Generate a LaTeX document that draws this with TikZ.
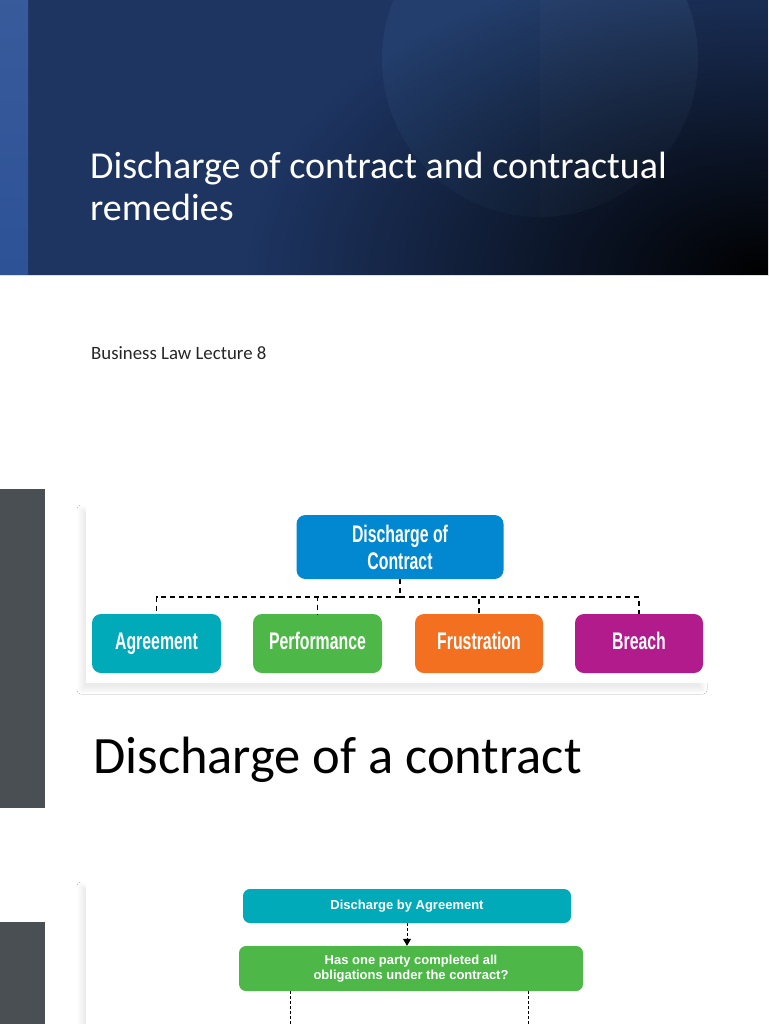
\documentclass[tikz,border=0pt]{standalone}
\usepackage{fontspec}
\setmainfont{Carlito}
\newfontfamily\condfont{Liberation Sans}[FakeStretch=0.66]
\newfontfamily\flowfont{Liberation Sans}
\usetikzlibrary{shadows.blur,fadings,arrows.meta}
\definecolor{bannerblue}{HTML}{1E3562}
\definecolor{stripblue}{HTML}{2D5296}
\definecolor{circblue}{HTML}{284776}
\definecolor{bandline}{HTML}{D5E2EE}
\definecolor{barGray}{HTML}{4A4F54}
\definecolor{cBlue}{HTML}{0288D1}
\definecolor{cTeal}{HTML}{00AAB9}
\definecolor{cGreen}{HTML}{4DB848}
\definecolor{cOrange}{HTML}{F37021}
\definecolor{cMagenta}{HTML}{B21B8B}
\tikzfading[name=cornerfade, inner color=transparent!0, outer color=transparent!100]
\begin{document}
\begin{tikzpicture}[x=1pt,y=-1pt,
  catbox/.style={rounded corners=9pt, text=white, inner sep=0pt, align=center,
    font=\condfont\bfseries\fontsize{24}{27}\selectfont},
  leafbox/.style={catbox, minimum height=59pt, text height=17pt, text depth=5pt},
  flowbox/.style={rounded corners=7pt, text=white, inner sep=0pt, align=center,
    font=\flowfont\bfseries\fontsize{13}{15}\selectfont},
  busline/.style={draw=black, line width=1.3pt, dash pattern=on 5pt off 4pt},
  flowline/.style={draw=black, line width=1pt, dash pattern=on 3pt off 2pt},
  card/.style={fill=white, blur shadow={shadow xshift=-5pt, shadow yshift=-7pt, shadow blur radius=4pt, shadow opacity=8, shadow blur steps=10}}
]
\useasboundingbox (0,0) rectangle (768,1024);
\fill[white] (0,0) rectangle (768,1024);
% ---- title banner
\fill[bannerblue] (0,0) rectangle (768,275);
\begin{scope}
  \clip (0,0) rectangle (768,275);
  \fill[circblue, opacity=0.5] (540,59) circle (158);
  \begin{scope}
    \clip (540,59) circle (158);
    \fill[white, opacity=0.025] (540,-100) rectangle (700,220);
  \end{scope}
  \fill[black, path fading=cornerfade] (768,275) ellipse [x radius=520, y radius=320];
\end{scope}
\shade[top color=stripblue!95!white, bottom color=stripblue] (0,0) rectangle (28,275);
\draw[bandline, line width=1.5pt] (0,275.5) -- (768,275.5);
\node[anchor=base west, text=white, inner sep=0pt, font=\fontsize{38}{42}\selectfont] (title1) at (90,179) {Discharge of contract and contractual};
\node[anchor=base west, text=white, inner sep=0pt, font=\fontsize{38}{42}\selectfont] (title2) at (90,221) {remedies};
\node[anchor=base west, text=black!85, inner sep=0pt, font=\fontsize{18.8}{22}\selectfont] (sub) at (91,359) {Business Law Lecture 8};
% ---- side bars
\fill[barGray] (0,489) rectangle (45,808);
\fill[barGray] (0,922) rectangle (45,1024);
% ---- card 1
\path[card] (86,502) rectangle (708,683);
\node[catbox, fill=cBlue, minimum width=207pt, minimum height=64pt] (top) at (400,547) {Discharge of\\Contract};
\node[leafbox, fill=cTeal, minimum width=129pt] (agr) at (156.5,643.5) {Agreement};
\node[leafbox, fill=cGreen, minimum width=129pt] (perf) at (317.5,643.5) {Performance};
\node[leafbox, fill=cOrange, minimum width=128pt] (frus) at (479,643.5) {Frustration};
\node[leafbox, fill=cMagenta, minimum width=128pt] (brc) at (639,643.5) {Breach};
\coordinate (bus) at (400,597);
\draw[busline] (top.south) -- (bus);
\draw[busline] (bus) -| (agr.north);
\draw[busline] (bus) -| (perf.north);
\draw[busline] (bus) -| (frus.north);
\draw[busline] (bus) -| (brc.north);
% ---- heading
\node[anchor=base west, text=black, inner sep=0pt, font=\fontsize{52.5}{60}\selectfont] (head) at (93,773) {Discharge of a contract};
% ---- card 2
\path[card] (86,879) rectangle (700,1040);
\node[flowbox, fill=cTeal, minimum width=328pt, minimum height=34pt] (dba) at (407,906) {Discharge by Agreement};
\node[flowbox, fill=cGreen, minimum width=344pt, minimum height=45pt] (q1) at (411,968.5) {Has one party completed all\\obligations under the contract?};
\draw[flowline, -{Triangle[length=7pt,width=8pt]}] (dba.south) -- (dba.south |- q1.north);
\coordinate (leftEnd) at (290,1026);
\coordinate (rightEnd) at (528,1026);
\draw[flowline] (leftEnd |- q1.south) -- (leftEnd);
\draw[flowline] (rightEnd |- q1.south) -- (rightEnd);
\end{tikzpicture}
\end{document}
